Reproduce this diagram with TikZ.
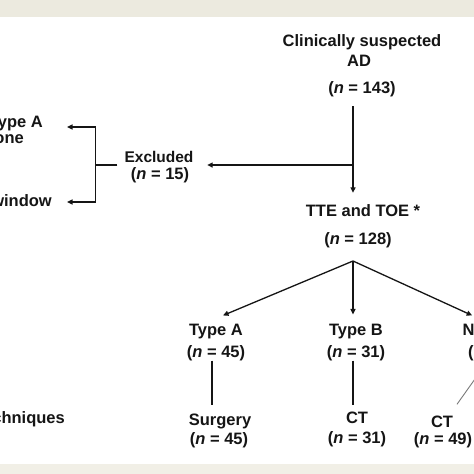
\documentclass[tikz,border=0pt]{standalone}
\usepackage{fontspec}
\setmainfont{Liberation Sans}
\usetikzlibrary{arrows.meta,calc}
\definecolor{bandtop}{HTML}{ECEADF}
\definecolor{bandbot}{HTML}{F1EFE6}
\definecolor{ink}{HTML}{151515}
\definecolor{thinink}{HTML}{7A7A7A}
\newcommand{\nval}[1]{(\textit{n} = #1)}
\begin{document}
\begin{tikzpicture}[x=1pt,y=-1pt,
  lbl/.style={inner sep=0pt, anchor=base, text=ink, font=\fontsize{16.5}{19}\selectfont\bfseries},
  lblsm/.style={lbl, font=\fontsize{15.5}{18}\selectfont\bfseries},
  ln/.style={draw=ink, line width=1.3pt},
  thinln/.style={draw=thinink, line width=0.9pt},
  arr/.style={ln, -{Triangle[length=5.5pt,width=5pt]}},
]
\useasboundingbox (0,0) rectangle (474,474);
\clip (0,0) rectangle (474,474);
\fill[white] (0,0) rectangle (474,474);
\fill[bandtop] (0,0) rectangle (474,17);
\fill[bandbot] (0,464) rectangle (474,474);

% top
\node[lbl] (cs1) at (362,46.5) {Clinically suspected};
\node[lbl] (cs2) at (359,66.5) {AD};
\node[lbl] (cs3) at (362,93.5) {\nval{143}};

% excluded
\node[lblsm] (excl) at (159,162) {Excluded};
\node[lbl] (excln) at (160,179.5) {\nval{15}};

% left (cut) labels
\node[lbl, anchor=base east] (la) at (43,127) {ype A};
\node[lbl, anchor=base east] (lb) at (24,143) {one};
\node[lbl, anchor=base east] (lc) at (52,206.5) {window};
\node[lbl, anchor=base east] (ld) at (65,423) {chniques};

% TTE/TOE
\node[lbl] (tte) at (363,216) {TTE and TOE *};
\node[lbl] (tten) at (358,244.5) {\nval{128}};

% level 2
\node[lbl] (ta) at (216,335) {Type A};
\node[lbl] (tan) at (216,357) {\nval{45}};
\node[lbl] (tb) at (356,335) {Type B};
\node[lbl] (tbn) at (356,357) {\nval{31}};
\node[lbl, anchor=base west] (nb) at (462.5,335) {N};
\node[lbl, anchor=base west] (nbn) at (468,357) {(};

% level 3
\node[lbl] (surg) at (220,425) {Surgery};
\node[lbl] (surgn) at (219,444.5) {\nval{45}};
\node[lbl] (ct1) at (357,423) {CT};
\node[lbl] (ct1n) at (357,443) {\nval{31}};
\node[lbl] (ct2) at (442,427) {CT};
\node[lbl] (ct2n) at (443,444) {\nval{49}};

% junctions
\coordinate (j1) at (353,165);
\coordinate (j2) at (353,261);
\coordinate (b0) at (95.6,165);
\coordinate (b1) at (95.6,127);
\coordinate (b2) at (95.6,202);

% connectors
\draw[ln, shorten <=9pt] (cs3.south -| j1) -- (j1);
\draw[arr, shorten >=11pt] (j1) -- (tte.north -| j1);
\draw[arr] (j1) -- ($(excl.east |- j1)+(13.5,0)$);
\draw[ln] ($(excl.west |- j1)+(-7,0)$) -- (b0);
\draw[ln] (b1) -- (b2);
\draw[arr] (b1) -- ($(la.east |- b1)+(24,0)$);
\draw[arr] (b2) -- ($(lc.east |- b2)+(15,0)$);

\draw[arr] (j2) -- ($(ta.north)+(7,-8)$);
\draw[arr] (j2) -- ($(tb.north)+(-3,-9)$);
\draw[arr] (j2) -- ($(nb.north)+(3.5,-8)$);

\draw[ln] ($(tan.south)+(-4,0)$) -- ($(surg.north)+(-8,-8)$);
\draw[ln] ($(tbn.south)+(-3,0)$) -- ($(ct1.north)+(-4,-6)$);
\draw[thinln] ($(ct2.north)+(15,-11)$) -- ($(nbn.south)+(16,1.5)$);
\end{tikzpicture}
\end{document}
